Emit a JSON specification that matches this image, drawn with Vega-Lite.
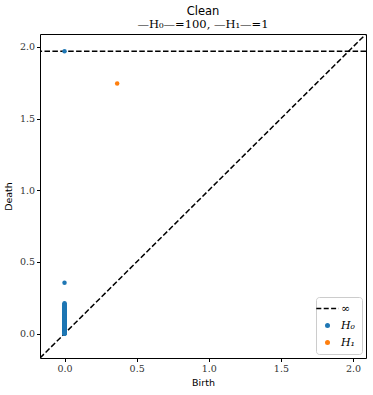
{
  "$schema": "https://vega.github.io/schema/vega-lite/v6.json",
  "width": 326,
  "height": 324,
  "autosize": {"type": "none"},
  "padding": {"left": 40, "top": 34, "right": 7, "bottom": 37},
  "background": "white",
  "title": {
    "text": "Clean",
    "subtitle": "—H₀—=100, —H₁—=1",
    "font": "DejaVu Sans",
    "fontSize": 11.5,
    "fontWeight": "normal",
    "subtitleFont": "DejaVu Serif",
    "subtitleFontSize": 11.5,
    "subtitleColor": "black",
    "subtitlePadding": 1,
    "offset": 4,
    "anchor": "middle",
    "color": "black"
  },
  "config": {
    "view": {"stroke": "black", "strokeWidth": 1},
    "axis": {
      "grid": false,
      "domain": false,
      "tickColor": "black",
      "tickSize": 3.5,
      "labelFont": "DejaVu Serif",
      "labelFontSize": 9.5,
      "labelColor": "#333",
      "titleFont": "DejaVu Sans",
      "titleFontSize": 9.5,
      "titleFontWeight": "normal",
      "titleColor": "black"
    },
    "legend": {
      "title": null,
      "orient": "bottom-right",
      "offset": 4,
      "padding": 6,
      "rowPadding": 5,
      "fillColor": "white",
      "strokeColor": "#cccccc",
      "cornerRadius": 3,
      "labelFont": "DejaVu Serif",
      "labelFontSize": 11,
      "labelFontStyle": "italic",
      "labelColor": "black",
      "labelOffset": 8,
      "symbolSize": 400
    }
  },
  "datasets": {
    "points": [
      {"birth": 0, "death": 1.97, "dim": "H₀"},
      {"birth": 0, "death": 0.355, "dim": "H₀"},
      {"birth": 0, "death": 0.212, "dim": "H₀"},
      {"birth": 0, "death": 0.207, "dim": "H₀"},
      {"birth": 0, "death": 0.203, "dim": "H₀"},
      {"birth": 0, "death": 0.198, "dim": "H₀"},
      {"birth": 0, "death": 0.194, "dim": "H₀"},
      {"birth": 0, "death": 0.19, "dim": "H₀"},
      {"birth": 0, "death": 0.186, "dim": "H₀"},
      {"birth": 0, "death": 0.182, "dim": "H₀"},
      {"birth": 0, "death": 0.178, "dim": "H₀"},
      {"birth": 0, "death": 0.175, "dim": "H₀"},
      {"birth": 0, "death": 0.171, "dim": "H₀"},
      {"birth": 0, "death": 0.168, "dim": "H₀"},
      {"birth": 0, "death": 0.165, "dim": "H₀"},
      {"birth": 0, "death": 0.162, "dim": "H₀"},
      {"birth": 0, "death": 0.159, "dim": "H₀"},
      {"birth": 0, "death": 0.156, "dim": "H₀"},
      {"birth": 0, "death": 0.153, "dim": "H₀"},
      {"birth": 0, "death": 0.15, "dim": "H₀"},
      {"birth": 0, "death": 0.147, "dim": "H₀"},
      {"birth": 0, "death": 0.144, "dim": "H₀"},
      {"birth": 0, "death": 0.141, "dim": "H₀"},
      {"birth": 0, "death": 0.139, "dim": "H₀"},
      {"birth": 0, "death": 0.136, "dim": "H₀"},
      {"birth": 0, "death": 0.133, "dim": "H₀"},
      {"birth": 0, "death": 0.131, "dim": "H₀"},
      {"birth": 0, "death": 0.128, "dim": "H₀"},
      {"birth": 0, "death": 0.126, "dim": "H₀"},
      {"birth": 0, "death": 0.123, "dim": "H₀"},
      {"birth": 0, "death": 0.121, "dim": "H₀"},
      {"birth": 0, "death": 0.118, "dim": "H₀"},
      {"birth": 0, "death": 0.116, "dim": "H₀"},
      {"birth": 0, "death": 0.114, "dim": "H₀"},
      {"birth": 0, "death": 0.111, "dim": "H₀"},
      {"birth": 0, "death": 0.109, "dim": "H₀"},
      {"birth": 0, "death": 0.107, "dim": "H₀"},
      {"birth": 0, "death": 0.105, "dim": "H₀"},
      {"birth": 0, "death": 0.103, "dim": "H₀"},
      {"birth": 0, "death": 0.101, "dim": "H₀"},
      {"birth": 0, "death": 0.099, "dim": "H₀"},
      {"birth": 0, "death": 0.097, "dim": "H₀"},
      {"birth": 0, "death": 0.095, "dim": "H₀"},
      {"birth": 0, "death": 0.093, "dim": "H₀"},
      {"birth": 0, "death": 0.091, "dim": "H₀"},
      {"birth": 0, "death": 0.089, "dim": "H₀"},
      {"birth": 0, "death": 0.087, "dim": "H₀"},
      {"birth": 0, "death": 0.085, "dim": "H₀"},
      {"birth": 0, "death": 0.083, "dim": "H₀"},
      {"birth": 0, "death": 0.081, "dim": "H₀"},
      {"birth": 0, "death": 0.079, "dim": "H₀"},
      {"birth": 0, "death": 0.077, "dim": "H₀"},
      {"birth": 0, "death": 0.075, "dim": "H₀"},
      {"birth": 0, "death": 0.073, "dim": "H₀"},
      {"birth": 0, "death": 0.071, "dim": "H₀"},
      {"birth": 0, "death": 0.069, "dim": "H₀"},
      {"birth": 0, "death": 0.067, "dim": "H₀"},
      {"birth": 0, "death": 0.065, "dim": "H₀"},
      {"birth": 0, "death": 0.063, "dim": "H₀"},
      {"birth": 0, "death": 0.061, "dim": "H₀"},
      {"birth": 0, "death": 0.059, "dim": "H₀"},
      {"birth": 0, "death": 0.057, "dim": "H₀"},
      {"birth": 0, "death": 0.055, "dim": "H₀"},
      {"birth": 0, "death": 0.053, "dim": "H₀"},
      {"birth": 0, "death": 0.051, "dim": "H₀"},
      {"birth": 0, "death": 0.049, "dim": "H₀"},
      {"birth": 0, "death": 0.047, "dim": "H₀"},
      {"birth": 0, "death": 0.045, "dim": "H₀"},
      {"birth": 0, "death": 0.043, "dim": "H₀"},
      {"birth": 0, "death": 0.041, "dim": "H₀"},
      {"birth": 0, "death": 0.039, "dim": "H₀"},
      {"birth": 0, "death": 0.037, "dim": "H₀"},
      {"birth": 0, "death": 0.035, "dim": "H₀"},
      {"birth": 0, "death": 0.033, "dim": "H₀"},
      {"birth": 0, "death": 0.031, "dim": "H₀"},
      {"birth": 0, "death": 0.029, "dim": "H₀"},
      {"birth": 0, "death": 0.027, "dim": "H₀"},
      {"birth": 0, "death": 0.025, "dim": "H₀"},
      {"birth": 0, "death": 0.023, "dim": "H₀"},
      {"birth": 0, "death": 0.021, "dim": "H₀"},
      {"birth": 0, "death": 0.02, "dim": "H₀"},
      {"birth": 0, "death": 0.018, "dim": "H₀"},
      {"birth": 0, "death": 0.017, "dim": "H₀"},
      {"birth": 0, "death": 0.015, "dim": "H₀"},
      {"birth": 0, "death": 0.014, "dim": "H₀"},
      {"birth": 0, "death": 0.012, "dim": "H₀"},
      {"birth": 0, "death": 0.011, "dim": "H₀"},
      {"birth": 0, "death": 0.01, "dim": "H₀"},
      {"birth": 0, "death": 0.009, "dim": "H₀"},
      {"birth": 0, "death": 0.008, "dim": "H₀"},
      {"birth": 0, "death": 0.007, "dim": "H₀"},
      {"birth": 0, "death": 0.006, "dim": "H₀"},
      {"birth": 0, "death": 0.005, "dim": "H₀"},
      {"birth": 0, "death": 0.004, "dim": "H₀"},
      {"birth": 0, "death": 0.003, "dim": "H₀"},
      {"birth": 0, "death": 0.002, "dim": "H₀"},
      {"birth": 0, "death": 0.002, "dim": "H₀"},
      {"birth": 0, "death": 0.001, "dim": "H₀"},
      {"birth": 0, "death": 0.001, "dim": "H₀"},
      {"birth": 0, "death": 0.0, "dim": "H₀"},
      {"birth": 0.365, "death": 1.745, "dim": "H₁"}
    ],
    "inf": [{"death": 1.97, "dim": "∞"}],
    "diag": [{"birth": -0.17, "death": -0.17}, {"birth": 2.09, "death": 2.09}]
  },
  "layer": [
    {
      "data": {"name": "diag"},
      "mark": {"type": "line", "color": "black", "strokeWidth": 1.5, "strokeDash": [5.5, 2.4], "clip": true},
      "encoding": {
        "x": {"field": "birth", "type": "quantitative", "scale": {"domain": [-0.17, 2.09], "nice": false, "zero": false}},
        "y": {"field": "death", "type": "quantitative", "scale": {"domain": [-0.17, 2.09], "nice": false, "zero": false}}
      }
    },
    {
      "data": {"name": "inf"},
      "mark": {"type": "rule", "strokeWidth": 1.5, "strokeDash": [5.5, 2.4]},
      "encoding": {
        "y": {"field": "death", "type": "quantitative", "scale": {"domain": [-0.17, 2.09], "nice": false, "zero": false}},
        "color": {
          "field": "dim", "type": "nominal",
          "scale": {"domain": ["∞", "H₀", "H₁"], "range": ["black", "#1f77b4", "#ff7f0e"]},
          "legend": {
            "encode": {
              "symbols": {
                "update": {
                  "shape": {"signal": "datum.value === '∞' ? 'stroke' : 'circle'"},
                  "size": {"signal": "datum.value === '∞' ? 500 : 25"},
                  "fill": {"signal": "datum.value === '∞' ? 'transparent' : (datum.value === 'H₀' ? '#1f77b4' : '#ff7f0e')"},
                  "stroke": {"signal": "datum.value === '∞' ? 'black' : 'transparent'"},
                  "strokeWidth": {"signal": "datum.value === '∞' ? 1.5 : 0"},
                  "strokeDash": {"signal": "datum.value === '∞' ? [5, 2.4] : [1, 0]"},
                  "opacity": {"value": 1}
                }
              }
            }
          }
        }
      }
    },
    {
      "data": {"name": "points"},
      "mark": {"type": "point", "filled": true, "size": 20, "opacity": 1, "shape": "circle", "strokeWidth": 0},
      "encoding": {
        "x": {
          "field": "birth", "type": "quantitative",
          "scale": {"domain": [-0.17, 2.09], "nice": false, "zero": false},
          "axis": {"title": "Birth", "values": [0, 0.5, 1, 1.5, 2], "format": ".1f", "titlePadding": 4, "labelFont": "DejaVu Serif"}
        },
        "y": {
          "field": "death", "type": "quantitative",
          "scale": {"domain": [-0.17, 2.09], "nice": false, "zero": false},
          "axis": {"title": "Death", "values": [0, 0.5, 1, 1.5, 2], "format": ".1f", "titlePadding": 6, "labelFont": "DejaVu Serif"}
        },
        "color": {
          "field": "dim", "type": "nominal",
          "scale": {"domain": ["∞", "H₀", "H₁"], "range": ["black", "#1f77b4", "#ff7f0e"]},
          "legend": {
            "encode": {
              "symbols": {
                "update": {
                  "shape": {"signal": "datum.value === '∞' ? 'stroke' : 'circle'"},
                  "size": {"signal": "datum.value === '∞' ? 500 : 25"},
                  "fill": {"signal": "datum.value === '∞' ? 'transparent' : (datum.value === 'H₀' ? '#1f77b4' : '#ff7f0e')"},
                  "stroke": {"signal": "datum.value === '∞' ? 'black' : 'transparent'"},
                  "strokeWidth": {"signal": "datum.value === '∞' ? 1.5 : 0"},
                  "strokeDash": {"signal": "datum.value === '∞' ? [5, 2.4] : [1, 0]"},
                  "opacity": {"value": 1}
                }
              }
            }
          }
        }
      }
    }
  ]
}
